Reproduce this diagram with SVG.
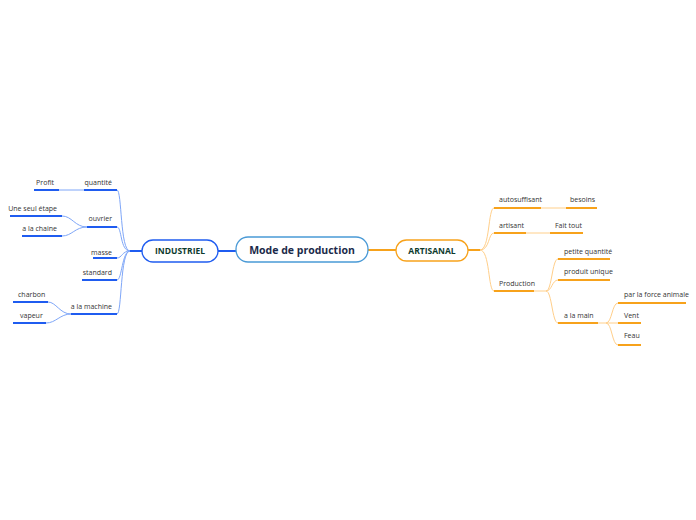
<svg xmlns="http://www.w3.org/2000/svg" width="696" height="520" viewBox="0 0 696 520">
<style>
text{font-family:"Open Sans","Noto Sans",sans-serif;font-size:7px;fill:#333}
.b{stroke:#1f5cf0;stroke-width:2;fill:none}
.bc{stroke:#7ea6f8;stroke-width:1;fill:none}
.o{stroke:#f7a21b;stroke-width:2;fill:none}
.oc{stroke:#ffcf8a;stroke-width:1;fill:none}
.t{font-weight:bold;font-size:8.5px;fill:#0d3b2e}
</style>
<rect width="696" height="520" fill="#fff"/>
<g id="connectors">
<path class="b" d="M218 251H236"/>
<path class="o" d="M368 250H396"/>
<path class="b" d="M130 251H142"/>
<path class="bc" d="M130 251C120 251 122 190 117 190M130 251C120 251 122 227 117 227M130 251C122 251 122 258 117 258M130 251C122 251 122 280 117 280M130 251C120 251 122 314 117 314"/>
<path class="bc" d="M84 190H59M87 227C75 227 72 216 62 216M87 227C75 227 72 236 62 236M71 314C60 314 56 302 48 302M71 314C60 314 56 323 46 323"/>
<path class="o" d="M468 250H480"/>
<path class="oc" d="M480 250C490 250 488 208 494 208M480 250C490 250 488 233 494 233M480 250C490 250 488 291 494 291M541 208H566M526 233H550"/>
<path class="oc" d="M534 291H546C552 291 552 259 558 259M546 291C552 291 552 280 558 280M546 291C552 291 552 323 558 323M598 323H606C612 323 612 303 618 303M606 323C612 323 612 345 618 345M606 323H618"/>
</g>
<g id="center"><rect x="236" y="237" width="132" height="25" rx="12" fill="#fff" stroke="#4a9ad6" stroke-width="1.3"/><text x="302" y="253.5" text-anchor="middle" style="font-size:10.5px;font-weight:bold;fill:#1b2a4a">Mode de production</text></g>
<g id="industriel"><rect x="142" y="240" width="76" height="22" rx="11" fill="#fff" stroke="#1f5cf0" stroke-width="1.3"/><text class="t" x="180" y="254" text-anchor="middle">INDUSTRIEL</text></g>
<g id="artisanal"><rect x="396" y="240" width="72" height="21" rx="10.5" fill="#fff" stroke="#f7a21b" stroke-width="1.3"/><text class="t" x="432" y="253.5" text-anchor="middle">ARTISANAL</text></g>
<g id="quantite"><path class="b" d="M84 190H117"/><text x="112" y="185" text-anchor="end">quantité</text></g>
<g id="profit"><path class="b" d="M34 190H59"/><text x="54" y="185" text-anchor="end">Profit</text></g>
<g id="ouvrier"><path class="b" d="M87 227H117"/><text x="112" y="221" text-anchor="end">ouvrier</text></g>
<g id="etape"><path class="b" d="M10 216H62"/><text x="57" y="211" text-anchor="end">Une seul étape</text></g>
<g id="chaine"><path class="b" d="M22 236H62"/><text x="57" y="231" text-anchor="end">a la chaine</text></g>
<g id="masse"><path class="b" d="M93 258H117"/><text x="112" y="255" text-anchor="end">masse</text></g>
<g id="standard"><path class="b" d="M82 280H117"/><text x="112" y="275" text-anchor="end">standard</text></g>
<g id="machine"><path class="b" d="M71 314H117"/><text x="112" y="309" text-anchor="end">a la machine</text></g>
<g id="charbon"><path class="b" d="M13 302H48"/><text x="18" y="297">charbon</text></g>
<g id="vapeur"><path class="b" d="M13 323H46"/><text x="20" y="318">vapeur</text></g>
<g id="autosuffisant"><path class="o" d="M494 208H541"/><text x="499" y="202">autosuffisant</text></g>
<g id="besoins"><path class="o" d="M566 208H597"/><text x="570" y="202">besoins</text></g>
<g id="artisant"><path class="o" d="M494 233H526"/><text x="499" y="228">artisant</text></g>
<g id="faittout"><path class="o" d="M550 233H583"/><text x="555" y="228">Fait tout</text></g>
<g id="production"><path class="o" d="M494 291H534"/><text x="499" y="286">Production</text></g>
<g id="petite"><path class="o" d="M558 259H610"/><text x="564" y="254">petite quantité</text></g>
<g id="unique"><path class="o" d="M558 280H610"/><text x="564" y="274">produit unique</text></g>
<g id="main"><path class="o" d="M558 323H598"/><text x="564" y="318">a la main</text></g>
<g id="force"><path class="o" d="M618 303H686"/><text x="624" y="297">par la force animale</text></g>
<g id="vent"><path class="o" d="M618 323H641"/><text x="624" y="318">Vent</text></g>
<g id="feau"><path class="o" d="M618 345H641"/><text x="624" y="338">Feau</text></g>
</svg>
